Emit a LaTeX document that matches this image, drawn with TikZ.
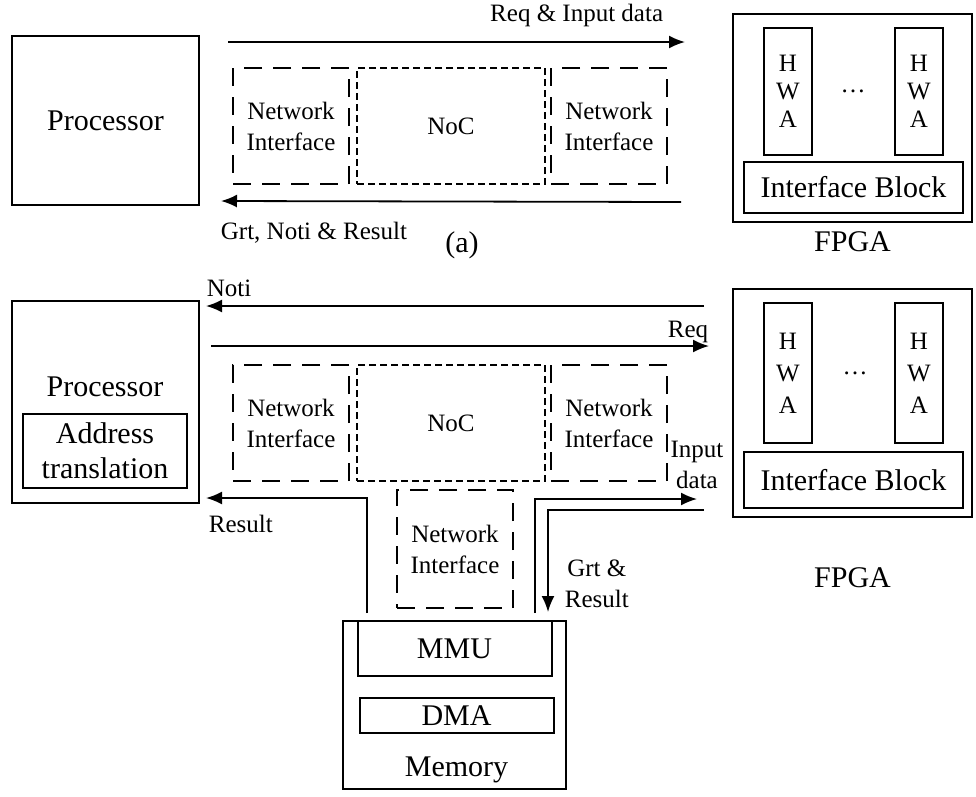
\documentclass[tikz,border=0pt]{standalone}
\usepackage{fontspec}
\setmainfont{Liberation Serif}
\usetikzlibrary{arrows.meta,positioning,calc}
\tikzset{
  >={Latex[length=16pt,width=13pt]},
  blk/.style={draw, line width=2pt, inner sep=0pt, align=center, font=\fontsize{30}{35}\selectfont},
  ni/.style={draw, line width=2pt, dash pattern=on 18pt off 11pt, inner sep=0pt, align=center, minimum width=116pt, minimum height=116pt, font=\fontsize{25}{31}\selectfont},
  noc/.style={draw, line width=2pt, dash pattern=on 7pt off 4pt, inner sep=0pt, align=center, minimum width=188pt, minimum height=116pt, font=\fontsize{25}{31}\selectfont},
  hwa/.style={draw, line width=2pt, inner sep=0pt, align=center, minimum width=48pt, font=\fontsize{25}{28}\selectfont},
  lbl/.style={inner sep=0pt, align=center, font=\fontsize{25}{31}\selectfont},
  big/.style={inner sep=0pt, align=center, font=\fontsize{30}{35}\selectfont},
  wire/.style={line width=1.8pt},
}
\begin{document}
\begin{tikzpicture}[x=1pt, y=-1pt, node distance=6pt]
  \useasboundingbox (0,0) rectangle (976,796);

  % (a)
  \node[blk, minimum width=187pt, minimum height=169pt] (procA) at (105.5,120.5) {Processor};
  \node[ni] (niA1) at (291,126) {Network\\Interface};
  \node[noc, right=6pt of niA1] (nocA) {NoC};
  \node[ni, right=4pt of nocA] (niA2) {Network\\Interface};
  \node[blk, minimum width=239pt, minimum height=208pt] (fpgaA) at (852.5,118) {};
  \node[hwa, minimum height=127pt, below right=14pt and 31pt of fpgaA.north west] (hwaA1) {H\\W\\A};
  \node[hwa, minimum height=127pt, below left=14pt and 29pt of fpgaA.north east] (hwaA2) {H\\W\\A};
  \node[lbl] (dotsA) at (853,91) {\dots};
  \node[blk, minimum width=219pt, minimum height=51pt, above right=9pt and 11pt of fpgaA.south west] (ibA) {Interface Block};
  \node[big, below=8pt of fpgaA] (fpgaAlbl) {FPGA};
  \node[big] (capA) at (462,245) {(a)};

  \draw[wire, ->] ([xshift=28pt, yshift=-7pt]procA.north east) -- ++(457,0)
    node[lbl, pos=1, anchor=south east, xshift=-21pt, yshift=14pt] {Req \& Input data};
  \draw[wire, ->] ([xshift=13pt, yshift=-17pt]niA2.south east) -- ([xshift=21pt, yshift=5pt]procA.south east)
    node[lbl, pos=1, anchor=north west, xshift=-1pt, yshift=-20pt] {Grt, Noti \& Result};

  % (b)
  \node[blk, minimum width=187pt, minimum height=202pt] (procB) at (105.5,402) {};
  \node[blk, minimum width=164pt, minimum height=74pt, above right=15pt and 11pt of procB.south west] (atB) {Address\\translation};
  \node[big, above=16pt of atB] (procBlbl) {Processor};
  \node[ni] (niB1) at (291,423) {Network\\Interface};
  \node[noc, right=6pt of niB1] (nocB) {NoC};
  \node[ni, right=4pt of nocB] (niB2) {Network\\Interface};
  \node[ni, minimum height=118pt, below=7pt of nocB, xshift=4pt] (niB3) {Network\\Interface};
  \node[blk, minimum width=223pt, minimum height=168pt] (memB) at (454.5,705) {};
  \node[blk, minimum width=194pt, minimum height=55pt, below=0pt of memB.north] (mmuB) {MMU};
  \node[blk, minimum width=194pt, minimum height=35pt, below=20pt of mmuB, xshift=2pt] (dmaB) {DMA};
  \node[big, below=23pt of dmaB] (memBlbl) {Memory};
  \node[blk, minimum width=239pt, minimum height=228pt] (fpgaB) at (852.5,403) {};
  \node[hwa, minimum height=140pt, font=\fontsize{25}{32}\selectfont, below right=14pt and 31pt of fpgaB.north west] (hwaB1) {H\\W\\A};
  \node[hwa, minimum height=140pt, font=\fontsize{25}{32}\selectfont, below left=14pt and 29pt of fpgaB.north east] (hwaB2) {H\\W\\A};
  \node[lbl] (dotsB) at (855,373) {\dots};
  \node[blk, minimum width=219pt, minimum height=56pt, above right=9pt and 11pt of fpgaB.south west] (ibB) {Interface Block};
  \node[big, below=49pt of fpgaB] (fpgaBlbl) {FPGA};

  \draw[wire, ->] ([xshift=-28pt, yshift=-18pt]fpgaB.north west) -- ([xshift=6pt, yshift=-6pt]procB.north east)
    node[lbl, pos=1, anchor=south west, yshift=8pt] {Noti};
  \draw[wire, ->] ([xshift=11pt, yshift=-46pt]procB.north east) -- ++(498,0)
    node[lbl, pos=1, anchor=south east, yshift=2pt] {Req};
  \draw[wire, ->] ([xshift=25pt, yshift=7pt]memB.north west) |- ([xshift=6pt, yshift=6pt]procB.south east)
    node[lbl, pos=1, anchor=north west, xshift=2pt, yshift=-16pt] {Result};
  \draw[wire, ->] ([xshift=-32pt, yshift=7pt]memB.north east) |- ([xshift=-35pt, yshift=19pt]fpgaB.south west)
    node[lbl, pos=1, above=9pt] {Input\\data};
  \draw[wire, ->] ([xshift=-28pt, yshift=8pt]fpgaB.south west) -| ([xshift=-19pt, yshift=8pt]memB.north east)
    node[lbl, pos=1, anchor=south west, xshift=16pt, yshift=3pt] {Grt \&\\Result};
\end{tikzpicture}
\end{document}
